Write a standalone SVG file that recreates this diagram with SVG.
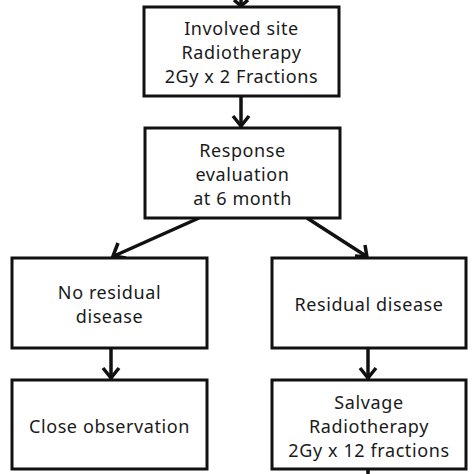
<svg xmlns="http://www.w3.org/2000/svg" width="474" height="474" viewBox="0 0 474 474">
<style>
.box{fill:#fff;stroke:#111;stroke-width:3}
.t{font-family:"Noto Sans","DejaVu Sans",sans-serif;font-size:18px;letter-spacing:0.6px;fill:#1a1a1a;text-anchor:middle}
.c{stroke:#111;stroke-width:3.5;fill:none}
.h{stroke:#111;stroke-width:3.5;fill:none;stroke-linejoin:miter}
</style>
<rect width="474" height="474" fill="#fff"/>
<g id="connectors">
<line class="c" x1="241" y1="0" x2="241" y2="6"/>
<polyline class="h" points="234,0 241,6 248,0"/>
<line class="c" x1="241" y1="96" x2="241" y2="127"/>
<polyline class="h" points="233,116 241,126 249,116"/>
<line class="c" x1="199" y1="218" x2="114" y2="256"/>
<polyline class="h" points="118,243 113,256 126,258"/>
<line class="c" x1="307" y1="218" x2="366" y2="256"/>
<polyline class="h" points="355,256 367,257 365,245"/>
<line class="c" x1="111" y1="348" x2="111" y2="379"/>
<polyline class="h" points="103,368 111,378 119,368"/>
<line class="c" x1="368" y1="348" x2="368" y2="379"/>
<polyline class="h" points="360,368 368,378 376,368"/>
<line class="c" x1="368" y1="469" x2="368" y2="474"/>
</g>
<g id="n1"><rect class="box" x="144" y="7" width="195" height="89"/>
<text class="t" x="241.5" y="35">Involved site</text><text class="t" x="241.5" y="59">Radiotherapy</text><text class="t" x="241.5" y="83">2Gy x 2 Fractions</text></g>
<g id="n2"><rect class="box" x="145" y="128" width="195" height="90"/>
<text class="t" x="242.5" y="157">Response</text><text class="t" x="242.5" y="181">evaluation</text><text class="t" x="242.5" y="205">at 6 month</text></g>
<g id="n3"><rect class="box" x="12" y="258" width="195" height="90"/>
<text class="t" x="109.5" y="299">No residual</text><text class="t" x="109.5" y="323">disease</text></g>
<g id="n4"><rect class="box" x="272" y="258" width="194" height="90"/>
<text class="t" x="369" y="311">Residual disease</text></g>
<g id="n5"><rect class="box" x="12" y="380" width="195" height="89"/>
<text class="t" x="109.5" y="433">Close observation</text></g>
<g id="n6"><rect class="box" x="272" y="380" width="194" height="89"/>
<text class="t" x="369" y="409">Salvage</text><text class="t" x="369" y="433">Radiotherapy</text><text class="t" x="369" y="457">2Gy x 12 fractions</text></g>
</svg>
